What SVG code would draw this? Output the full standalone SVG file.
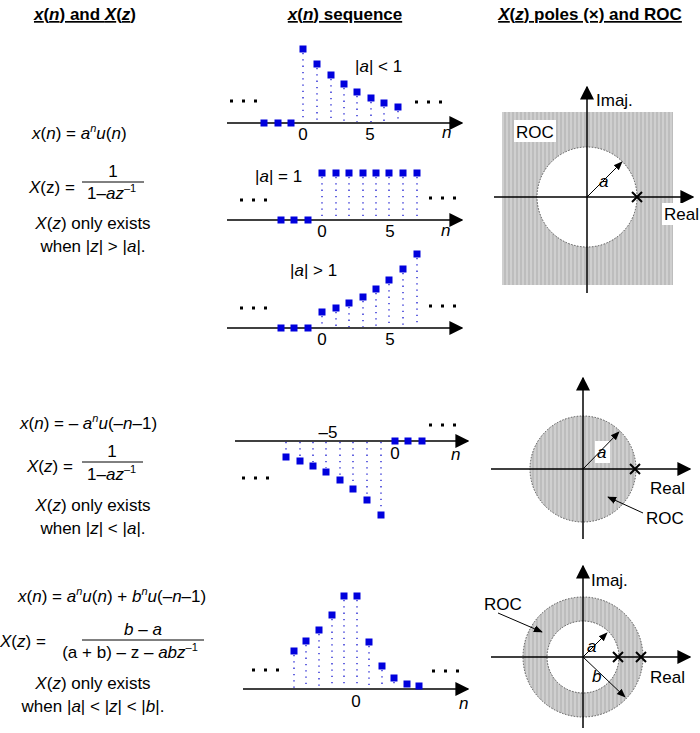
<svg xmlns="http://www.w3.org/2000/svg" width="700" height="733" viewBox="0 0 700 733">
<style>
text{font-family:"Liberation Sans",Arial,sans-serif;font-size:17px;fill:#000}
.h{font-weight:bold;text-decoration:underline;font-size:17px}
.i{font-style:italic}
.sq{fill:#0000dd}
.dl{stroke:#0000cc;stroke-width:1.2;stroke-dasharray:1.3 5;fill:none}
.ax{stroke:#000;stroke-width:1.5;fill:none}
.dots{stroke:#000;stroke-width:3;stroke-dasharray:3 9;fill:none}
.fr{stroke:#000;stroke-width:1}
.ar{stroke:#000;stroke-width:1;fill:none}
.circ{stroke:#555;stroke-width:1;stroke-dasharray:1.5 1.5}
</style>
<defs>
<marker id="ah" viewBox="0 0 10 10" refX="9" refY="5" markerWidth="14" markerHeight="14" markerUnits="userSpaceOnUse" orient="auto"><path d="M0,0L10,5L0,10z" fill="#000"/></marker>
<marker id="sa" viewBox="0 0 10 10" refX="9" refY="5" markerWidth="9" markerHeight="9" markerUnits="userSpaceOnUse" orient="auto"><path d="M0,1L10,5L0,9z" fill="#000"/></marker>
<pattern id="st" width="4" height="4" patternUnits="userSpaceOnUse"><rect width="4" height="4" fill="#cfcfcf"/><rect width="2" height="4" fill="#bdbdbd"/></pattern>
</defs>

<g id="headers">
<text x="85" y="20" text-anchor="middle" class="h"><tspan class="i">x</tspan>(<tspan class="i">n</tspan>) and <tspan class="i">X</tspan>(<tspan class="i">z</tspan>)</text>
<text x="345" y="20" text-anchor="middle" class="h"><tspan class="i">x</tspan>(<tspan class="i">n</tspan>) sequence</text>
<text x="590" y="20" text-anchor="middle" class="h"><tspan class="i">X</tspan>(<tspan class="i">z</tspan>) poles (×) and ROC</text>
</g>

<g id="formulas1">
<text x="32" y="139"><tspan class="i">x</tspan>(<tspan class="i">n</tspan>) = <tspan class="i">a</tspan><tspan class="i" font-size="11" dy="-7">n</tspan><tspan class="i" dy="7">u</tspan>(<tspan class="i">n</tspan>)</text>
<text x="29" y="193"><tspan class="i">X</tspan>(z) =</text>
<line class="fr" x1="82" y1="182" x2="144" y2="182"/>
<text x="113" y="177" text-anchor="middle">1</text>
<text x="87" y="199">1–<tspan class="i">az</tspan><tspan font-size="11" dy="-7">–1</tspan></text>
<text x="93" y="229" text-anchor="middle"><tspan class="i">X</tspan>(<tspan class="i">z</tspan>) only exists</text>
<text x="93" y="252" text-anchor="middle">when |<tspan class="i">z</tspan>| &gt; |<tspan class="i">a</tspan>|.</text>
</g>

<g id="formulas2">
<text x="20" y="429"><tspan class="i">x</tspan>(<tspan class="i">n</tspan>) = – <tspan class="i">a</tspan><tspan class="i" font-size="11" dy="-7">n</tspan><tspan class="i" dy="7">u</tspan>(–<tspan class="i">n</tspan>–1)</text>
<text x="27" y="472"><tspan class="i">X</tspan>(<tspan class="i">z</tspan>) =</text>
<line class="fr" x1="82" y1="462" x2="143" y2="462"/>
<text x="112" y="457" text-anchor="middle">1</text>
<text x="87" y="480">1–<tspan class="i">az</tspan><tspan font-size="11" dy="-7">–1</tspan></text>
<text x="93" y="511" text-anchor="middle"><tspan class="i">X</tspan>(<tspan class="i">z</tspan>) only exists</text>
<text x="93" y="534" text-anchor="middle">when |<tspan class="i">z</tspan>| &lt; |<tspan class="i">a</tspan>|.</text>
</g>

<g id="formulas3">
<text x="18" y="602"><tspan class="i">x</tspan>(<tspan class="i">n</tspan>) = <tspan class="i">a</tspan><tspan class="i" font-size="11" dy="-7">n</tspan><tspan class="i" dy="7">u</tspan>(<tspan class="i">n</tspan>) + <tspan class="i">b</tspan><tspan class="i" font-size="11" dy="-7">n</tspan><tspan class="i" dy="7">u</tspan>(–<tspan class="i">n</tspan>–1)</text>
<text x="0" y="647"><tspan class="i">X</tspan>(<tspan class="i">z</tspan>) =</text>
<line class="fr" x1="82" y1="640" x2="204" y2="640"/>
<text x="143" y="635" text-anchor="middle"><tspan class="i">b</tspan> – <tspan class="i">a</tspan></text>
<text x="130" y="658" text-anchor="middle">(a + b) – z – <tspan class="i">abz</tspan><tspan font-size="11" dy="-7">–1</tspan></text>
<text x="93" y="689" text-anchor="middle"><tspan class="i">X</tspan>(<tspan class="i">z</tspan>) only exists</text>
<text x="93" y="712" text-anchor="middle">when |<tspan class="i">a</tspan>| &lt; |<tspan class="i">z</tspan>| &lt;  |<tspan class="i">b</tspan>|.</text>
</g>

<g id="seq1">
<line class="ax" x1="227" y1="123" x2="462" y2="123" marker-end="url(#ah)"/>
<path class="dl" d="M303,53V122M317,68V122M331,79V122M344,88V122M357,96V122M371,102V122M384,107V122M398,111V122"/>
<rect class="sq" x="299.5" y="45.5" width="7" height="7"/><rect class="sq" x="313.5" y="60.5" width="7" height="7"/><rect class="sq" x="327.5" y="71.5" width="7" height="7"/><rect class="sq" x="340.5" y="80.5" width="7" height="7"/><rect class="sq" x="353.5" y="88.5" width="7" height="7"/><rect class="sq" x="367.5" y="94.5" width="7" height="7"/><rect class="sq" x="380.5" y="99.5" width="7" height="7"/><rect class="sq" x="394.5" y="103.5" width="7" height="7"/>
<rect class="sq" x="260.5" y="119.5" width="7" height="7"/><rect class="sq" x="274.5" y="119.5" width="7" height="7"/><rect class="sq" x="287.5" y="119.5" width="7" height="7"/>
<line class="dots" x1="230" y1="101" x2="262" y2="101"/><line class="dots" x1="415" y1="102" x2="447" y2="102"/>
<text x="355" y="72">|<tspan class="i">a</tspan>| &lt; 1</text>
<text x="303" y="140" text-anchor="middle">0</text><text x="370" y="140" text-anchor="middle">5</text><text x="442" y="138" class="i">n</text>
</g>

<g id="seq2">
<line class="ax" x1="227" y1="220" x2="462" y2="220" marker-end="url(#ah)"/>
<path class="dl" d="M322,177V219M336,177V219M349,177V219M363,177V219M376,177V219M389,177V219M403,177V219M417,177V219"/>
<rect class="sq" x="318.5" y="169.5" width="7" height="7"/><rect class="sq" x="332.5" y="169.5" width="7" height="7"/><rect class="sq" x="345.5" y="169.5" width="7" height="7"/><rect class="sq" x="359.5" y="169.5" width="7" height="7"/><rect class="sq" x="372.5" y="169.5" width="7" height="7"/><rect class="sq" x="385.5" y="169.5" width="7" height="7"/><rect class="sq" x="399.5" y="169.5" width="7" height="7"/><rect class="sq" x="413.5" y="169.5" width="7" height="7"/>
<rect class="sq" x="277.5" y="216.5" width="7" height="7"/><rect class="sq" x="290.5" y="216.5" width="7" height="7"/><rect class="sq" x="304.5" y="216.5" width="7" height="7"/>
<line class="dots" x1="240" y1="200" x2="272" y2="200"/><line class="dots" x1="429" y1="198" x2="461" y2="198"/>
<text x="255" y="182">|<tspan class="i">a</tspan>| = 1</text>
<text x="322" y="237" text-anchor="middle">0</text><text x="390" y="237" text-anchor="middle">5</text><text x="441" y="236" class="i">n</text>
</g>

<g id="seq3">
<line class="ax" x1="227" y1="328" x2="462" y2="328" marker-end="url(#ah)"/>
<path class="dl" d="M322,316V327M336,312V327M349,307V327M363,301V327M376,293V327M389,284V327M403,273V327M417,258V327"/>
<rect class="sq" x="318.5" y="308.5" width="7" height="7"/><rect class="sq" x="332.5" y="304.5" width="7" height="7"/><rect class="sq" x="345.5" y="299.5" width="7" height="7"/><rect class="sq" x="359.5" y="293.5" width="7" height="7"/><rect class="sq" x="372.5" y="285.5" width="7" height="7"/><rect class="sq" x="385.5" y="276.5" width="7" height="7"/><rect class="sq" x="399.5" y="265.5" width="7" height="7"/><rect class="sq" x="413.5" y="250.5" width="7" height="7"/>
<rect class="sq" x="277.5" y="324.5" width="7" height="7"/><rect class="sq" x="290.5" y="324.5" width="7" height="7"/><rect class="sq" x="304.5" y="324.5" width="7" height="7"/>
<line class="dots" x1="240" y1="308" x2="272" y2="308"/><line class="dots" x1="429" y1="306" x2="461" y2="306"/>
<text x="290" y="276">|<tspan class="i">a</tspan>| &gt; 1</text>
<text x="322" y="345" text-anchor="middle">0</text><text x="390" y="345" text-anchor="middle">5</text>
</g>

<g id="seq4">
<line class="ax" x1="235" y1="441" x2="468" y2="441" marker-end="url(#ah)"/>
<path class="dl" d="M286,442V453M300,442V457M313,442V462M326,442V468M340,442V476M353,442V485M367,442V496M381,442V511"/>
<rect class="sq" x="282.5" y="453.5" width="7" height="7"/><rect class="sq" x="296.5" y="457.5" width="7" height="7"/><rect class="sq" x="309.5" y="462.5" width="7" height="7"/><rect class="sq" x="322.5" y="468.5" width="7" height="7"/><rect class="sq" x="336.5" y="476.5" width="7" height="7"/><rect class="sq" x="349.5" y="485.5" width="7" height="7"/><rect class="sq" x="363.5" y="496.5" width="7" height="7"/><rect class="sq" x="377.5" y="511.5" width="7" height="7"/>
<rect class="sq" x="391.5" y="437.5" width="7" height="7"/><rect class="sq" x="404.5" y="437.5" width="7" height="7"/><rect class="sq" x="418.5" y="437.5" width="7" height="7"/>
<line class="dots" x1="242" y1="478" x2="274" y2="478"/><line class="dots" x1="429" y1="425" x2="461" y2="425"/>
<text x="328" y="438" text-anchor="middle">–5</text>
<text x="395" y="459" text-anchor="middle">0</text><text x="451" y="460" class="i">n</text>
</g>

<g id="seq5">
<line class="ax" x1="243" y1="689" x2="468" y2="689" marker-end="url(#ah)"/>
<path class="dl" d="M294,655V688M306,645V688M319,634V688M332,619V688M344,600V688M357,600V688M369,646V688M382,670V688M394,682V688"/>
<rect class="sq" x="290.5" y="647.5" width="7" height="7"/><rect class="sq" x="302.5" y="637.5" width="7" height="7"/><rect class="sq" x="315.5" y="626.5" width="7" height="7"/><rect class="sq" x="328.5" y="611.5" width="7" height="7"/><rect class="sq" x="340.5" y="592.5" width="7" height="7"/><rect class="sq" x="353.5" y="592.5" width="7" height="7"/><rect class="sq" x="365.5" y="638.5" width="7" height="7"/><rect class="sq" x="378.5" y="662.5" width="7" height="7"/><rect class="sq" x="390.5" y="674.5" width="7" height="7"/><rect class="sq" x="403.5" y="680.5" width="7" height="7"/><rect class="sq" x="415.5" y="682.5" width="7" height="7"/>
<line class="dots" x1="252" y1="670" x2="284" y2="670"/><line class="dots" x1="432" y1="671" x2="464" y2="671"/>
<text x="356" y="707" text-anchor="middle">0</text><text x="459" y="709" class="i">n</text>
</g>

<g id="roc1">
<rect x="502" y="112" width="171" height="173" fill="url(#st)"/>
<circle class="circ" cx="587" cy="197" r="50" fill="#fff"/>
<rect x="514" y="120" width="42" height="22" fill="#fff"/>
<text x="516" y="138">ROC</text>
<line class="ax" x1="494" y1="197" x2="693" y2="197" marker-end="url(#ah)"/>
<line class="ax" x1="587" y1="293" x2="587" y2="87" marker-end="url(#ah)"/>
<line class="ar" x1="587" y1="197" x2="622" y2="162" marker-end="url(#sa)"/>
<text x="599" y="187" class="i">a</text>
<path d="M632,192l10,10M642,192l-10,10" stroke="#000" stroke-width="2"/>
<rect x="662" y="203" width="38" height="22" fill="#fff"/>
<text x="664" y="220">Real</text>
<text x="596" y="106">Imaj.</text>
</g>

<g id="roc2">
<circle class="circ" cx="583" cy="469" r="53" fill="url(#st)"/>
<line class="ax" x1="491" y1="469" x2="690" y2="469" marker-end="url(#ah)"/>
<line class="ax" x1="583" y1="539" x2="583" y2="378" marker-end="url(#ah)"/>
<rect x="595" y="441" width="15" height="22" fill="#fff"/>
<line class="ar" x1="583" y1="469" x2="619" y2="432" marker-end="url(#sa)"/>
<text x="597" y="458" class="i">a</text>
<path d="M630,464l10,10M640,464l-10,10" stroke="#000" stroke-width="2"/>
<text x="650" y="494">Real</text>
<line class="ar" x1="643" y1="513" x2="608" y2="497" marker-end="url(#sa)"/>
<text x="646" y="524">ROC</text>
</g>

<g id="roc3">
<circle class="circ" cx="583" cy="657" r="60" fill="url(#st)"/>
<circle class="circ" cx="583" cy="657" r="36" fill="#fff"/>
<line class="ax" x1="491" y1="657" x2="690" y2="657" marker-end="url(#ah)"/>
<line class="ax" x1="583" y1="728" x2="583" y2="566" marker-end="url(#ah)"/>
<line class="ar" x1="583" y1="657" x2="607" y2="633" marker-end="url(#sa)"/>
<line class="ar" x1="583" y1="657" x2="625" y2="697" marker-end="url(#sa)"/>
<text x="587" y="652" class="i">a</text>
<text x="592" y="682" class="i">b</text>
<path d="M613,652l10,10M623,652l-10,10M636,652l10,10M646,652l-10,10" stroke="#000" stroke-width="2"/>
<text x="650" y="683">Real</text>
<text x="591" y="586">Imaj.</text>
<line class="ar" x1="498" y1="613" x2="542" y2="632" marker-end="url(#sa)"/>
<text x="484" y="610">ROC</text>
</g>
</svg>
